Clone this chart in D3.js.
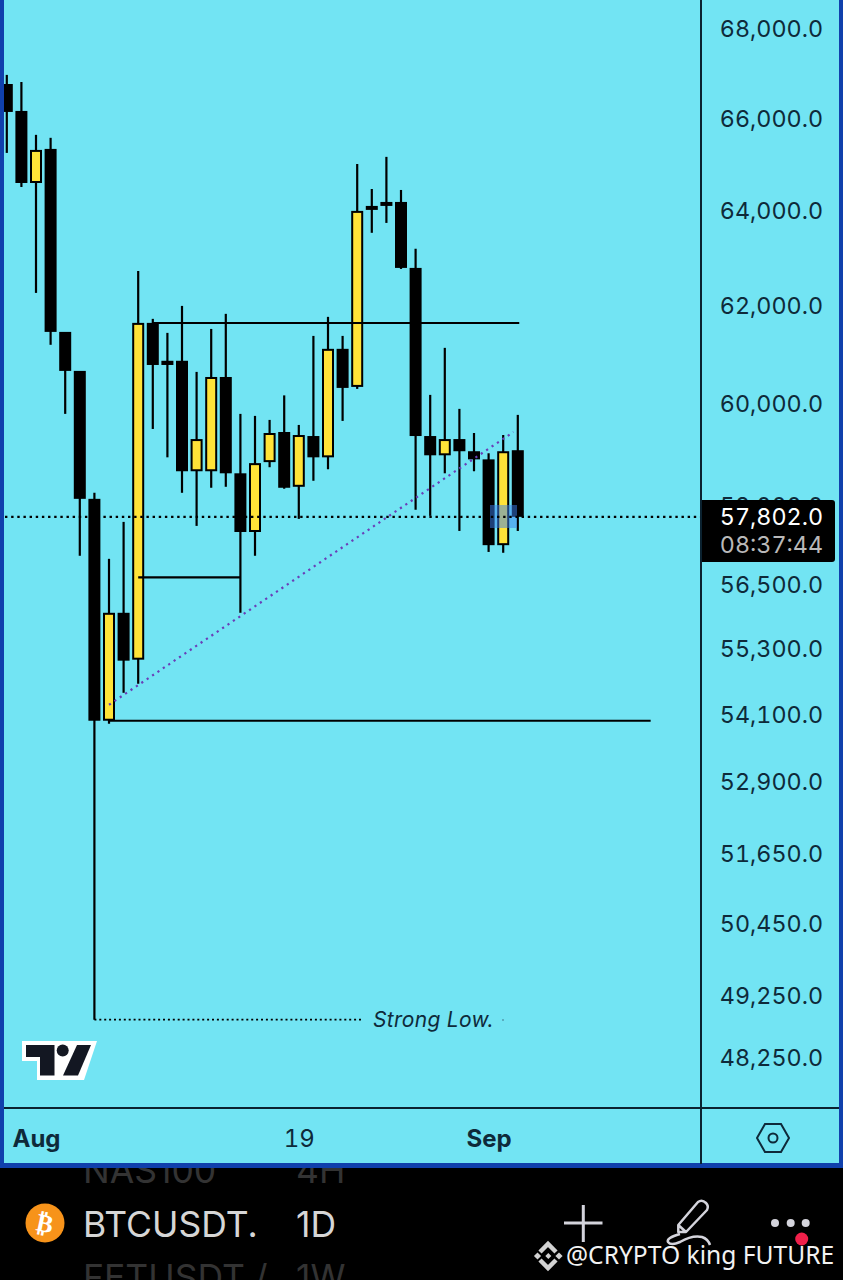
<!DOCTYPE html>
<html><head><meta charset="utf-8">
<style>html,body{margin:0;padding:0;background:#000;overflow:hidden}svg{display:block}</style>
<script src="https://cdnjs.cloudflare.com/ajax/libs/d3/7.8.5/d3.min.js"></script>
</head><body><svg id="c" width="843" height="1280"></svg>
<script>
// Daily BTCUSDT candles (day 0 = Jul 30)
const highs  = [66945,66787,65620,65555,61147,60060,58237,56969,57675,62709,61715,61427,61982,60633,61508,61818,59790,59750,59670,60160,59570,61365,61756,61365,64985,64446,65140,64425,63172,60170,61121,59890,59410,59010,59370,59770];
const opens  = [66742,66145,64575,65313,61447,60653,58120,53975,55953,55085,61632,60858,60858,58657,58657,60530,58617,57481,58836,59430,58354,59350,58930,61101,60330,63998,64168,64168,62772,59350,58970,59290,59050,58890,57229,59070];
const closes = [66123,64575,65291,61447,60653,58120,53975,55953,55067,61632,60773,60773,58657,59290,60530,58617,57481,58816,59410,58335,59370,58930,61101,60310,63977,64083,64083,62772,59350,58970,59290,59050,58890,57229,59050,57772];
const lows   = [65226,64489,62251,61183,59790,57027,48854,53921,54480,54643,59490,58930,58237,57598,58335,58354,55953,57027,58736,58316,57733,58471,58696,59650,60290,63511,63721,62751,57907,57791,58617,57501,58657,57100,57084,57501];
const priceTicks = [68000,66000,64000,62000,60000,58000,56500,55300,54100,52900,51650,50450,49250,48250];
const dayTicks = [2,20,33];
const dayLabels = ["Aug","19","Sep"];
const lastPrice = 57772;
const lastPriceLabel = "57,802.0";
const countdown = "08:37:44";
const resistance = {from:10,to:35.1,price:61630};
const support = {from:7,to:44.1,price:53975};
const shortLevel = {from:9,to:16,price:56619};
const strongLow = {from:6,to:24.3,price:48854};
const trendline = {from:7,to:34.7,p1:54263,p2:59430};
const watchRows = [["NAS100","4H"],["BTCUSDT.","1D"],["FETUSDT /","1W"]];

const W=843,H=1280, axisX=701, timeY=1108, frameB=1163;
const BG="#72e4f3", FRAME="#1040ac", INK="#0b2230", TXT="#0e2a3a", YEL="#ffe338";
const FONT="Inter, 'Open Sans', sans-serif";
const svg=d3.select("#c");
const x=d3.scaleLinear().domain([0,35]).range([6.8,517.8]);
const y=d3.scaleLog().domain([68000,48250]).range([28,1057]);

svg.append("rect").attr("width",W).attr("height",H).attr("fill","#000");
svg.append("rect").attr("width",W).attr("height",frameB).attr("fill",BG);
svg.append("defs").append("clipPath").attr("id","plot").append("rect").attr("x",4).attr("y",0).attr("width",axisX-4).attr("height",timeY);

// price axis
const pa=d3.axisRight(y).tickValues(priceTicks).tickFormat(d3.format(",.1f")).tickSize(0).tickPadding(0);
const pg=svg.append("g").attr("transform",`translate(823,0)`).call(pa);
pg.select(".domain").remove();
pg.selectAll("text").attr("x",0).attr("dy",null).attr("dominant-baseline","central").attr("text-anchor","end")
  .style("font",`400 23.3px ${FONT}`).style("font-variant-numeric","tabular-nums").attr("fill",TXT);

// time axis
const ta=d3.axisBottom(x).tickValues(dayTicks).tickFormat((d,i)=>dayLabels[i]).tickSize(0).tickPadding(0);
const tg=svg.append("g").attr("transform",`translate(0,1138)`).call(ta);
tg.select(".domain").remove();
tg.selectAll("text").attr("y",0).attr("dy",null).attr("dominant-baseline","central")
  .style("font",(d,i)=>`${i===1?400:700} 24px ${FONT}`).style("font-variant-numeric","tabular-nums").attr("fill",TXT);

const plot=svg.append("g").attr("clip-path","url(#plot)");
const idx=d3.range(highs.length);
// wicks
plot.append("g").selectAll("line").data(idx).join("line")
  .attr("x1",i=>x(i)).attr("x2",i=>x(i)).attr("y1",i=>y(highs[i])).attr("y2",i=>y(lows[i]))
  .attr("stroke","#000").attr("stroke-width",2.2);
// bodies
plot.append("g").selectAll("rect").data(idx).join("rect")
  .attr("x",i=>x(i)-5).attr("width",10)
  .attr("y",i=>y(Math.max(opens[i],closes[i]))+1)
  .attr("height",i=>Math.max(0.8,Math.abs(y(opens[i])-y(closes[i]))-2))
  .attr("fill",i=>closes[i]>opens[i]?YEL:"#000").attr("stroke","#000").attr("stroke-width",2);
// highlight
plot.append("rect").attr("x",490).attr("y",505).attr("width",27).attr("height",23).attr("fill","#3a80f0").attr("opacity",.5);

const hline=(o,w,dash)=>plot.append("line").attr("x1",x(o.from)).attr("x2",x(o.to)).attr("y1",y(o.price)).attr("y2",y(o.price))
  .attr("stroke","#000").attr("stroke-width",w).attr("stroke-dasharray",dash||null);
hline(resistance,2.2); hline(support,2.2); hline(shortLevel,2.2);
hline(strongLow,1.8,"2 2.9");
plot.append("line").attr("x1",5).attr("x2",axisX).attr("y1",y(lastPrice)).attr("y2",y(lastPrice))
  .attr("stroke","#000").attr("stroke-width",2.4).attr("stroke-dasharray","2.4 3.75");
plot.append("line").attr("x1",x(trendline.from)).attr("x2",x(trendline.to)).attr("y1",y(trendline.p1)).attr("y2",y(trendline.p2))
  .attr("stroke","#6a3fb8").attr("stroke-width",2.2).attr("stroke-dasharray","2.2 4.3");
plot.append("text").attr("x",373).attr("y",1027).text("Strong Low.").style("font",`italic 400 21px ${FONT}`).attr("letter-spacing",".3").attr("fill",TXT);
plot.append("circle").attr("cx",503).attr("cy",1020).attr("r",.8).attr("fill","#3a6a80");

// logo
const logo=svg.append("g");
logo.append("path").attr("d","M22 1041H97L84 1080H37V1061H22Z").attr("fill","#fff");
const lg=logo.append("g").attr("fill","#131722");
lg.append("path").attr("d","M26 1045H54.5V1075.5H40V1057H26Z");
lg.append("circle").attr("cx",62.7).attr("cy",1050.5).attr("r",6);
lg.append("path").attr("d","M77 1045H91L78 1075.5H63Z");

// frame and axis lines
svg.append("rect").attr("x",0).attr("y",0).attr("width",4).attr("height",frameB).attr("fill",FRAME);
svg.append("rect").attr("x",839).attr("y",0).attr("width",4).attr("height",frameB).attr("fill",FRAME);
svg.append("line").attr("x1",4).attr("x2",839).attr("y1",timeY).attr("y2",timeY).attr("stroke",INK).attr("stroke-width",2);
svg.append("rect").attr("x",0).attr("y",frameB).attr("width",W).attr("height",5).attr("fill",FRAME);
svg.append("line").attr("x1",axisX).attr("x2",axisX).attr("y1",0).attr("y2",frameB+1).attr("stroke",INK).attr("stroke-width",2);

// last price tag
svg.append("path").attr("d","M702 500H832Q835 500 835 503V559Q835 562 832 562H702Z").attr("fill","#000");
svg.append("text").attr("x",823).attr("y",516).attr("text-anchor","end").attr("dominant-baseline","central").text(lastPriceLabel).style("font",`400 23.3px ${FONT}`).style("font-variant-numeric","tabular-nums").attr("fill","#fff");
svg.append("text").attr("x",823).attr("y",544).attr("text-anchor","end").attr("dominant-baseline","central").text(countdown).style("font",`400 23.3px ${FONT}`).style("font-variant-numeric","tabular-nums").attr("fill","#b9b9b9");

// settings hexagon
svg.append("path").attr("d","M757 1138L765 1124H781L789 1138L781 1152H765Z").attr("fill","none").attr("stroke",TXT).attr("stroke-width",2);
svg.append("circle").attr("cx",773).attr("cy",1138).attr("r",4.5).attr("fill","none").attr("stroke",TXT).attr("stroke-width",2);

// bottom bar
const bar=svg.append("g");
bar.append("clipPath").attr("id","bar").append("rect").attr("x",0).attr("y",1168).attr("width",W).attr("height",112);
const rows=bar.append("g").attr("clip-path","url(#bar)");
const rowY=[1183,1237,1290];
watchRows.forEach((r,i)=>{
  const c=i===1?"#d6d6d6":"#333";
  rows.append("text").attr("x",83).attr("y",rowY[i]).text(r[0]).style("font",`400 35.5px ${FONT}`).attr("fill",c);
  rows.append("text").attr("x",296).attr("y",rowY[i]).text(r[1]).style("font",`400 35.5px ${FONT}`).attr("fill",c);
});
bar.append("circle").attr("cx",45).attr("cy",1223).attr("r",19.5).attr("fill","#f7931a");
bar.append("text").attr("x",45).attr("y",1232).attr("text-anchor","middle").text("₿").style("font","700 25px 'DejaVu Sans'").attr("fill","#fff").attr("transform","rotate(12 45 1223)");
const ic="#d4d4dc";
bar.append("path").attr("d","M564 1223H602.5M583.3 1205V1242").attr("stroke",ic).attr("stroke-width",3).attr("fill","none");
bar.append("path").attr("d","M678.3 1232L678.3 1225L698 1202Q702 1199 706 1203Q709 1206 707 1210L686 1232ZM678.3 1225L686 1232").attr("stroke",ic).attr("stroke-width",2.5).attr("fill","none").attr("stroke-linejoin","round");
bar.append("path").attr("d","M680 1234Q666 1238 668 1242Q671 1246 680 1242Q692 1235 702 1237Q708 1239 710 1245").attr("stroke",ic).attr("stroke-width",2.5).attr("fill","none");
[775,790.7,805.7].forEach(c=>bar.append("circle").attr("cx",c).attr("cy",1223).attr("r",4).attr("fill",ic));
bar.append("circle").attr("cx",801.7).attr("cy",1239).attr("r",6.5).attr("fill","#f0204a");

// watermark
bar.append("text").attr("x",566).attr("y",1264).text("@CRYPTO king FUTURE").style("font","400 24.6px 'Noto Sans'").attr("fill","#f2f2f2");
const bi="#d2d2d2";
bar.append("path").attr("d","M540 1252L548 1244L556 1252M540 1260L548 1268L556 1260").attr("fill","none").attr("stroke",bi).attr("stroke-width",4.5);
[[537.5,3.6],[548.3,3],[559,3.6]].forEach(([c,r])=>bar.append("path").attr("d",`M${c} ${1256-r}l${r} ${r}l${-r} ${r}l${-r} ${-r}Z`).attr("fill",bi));
</script></body></html>
